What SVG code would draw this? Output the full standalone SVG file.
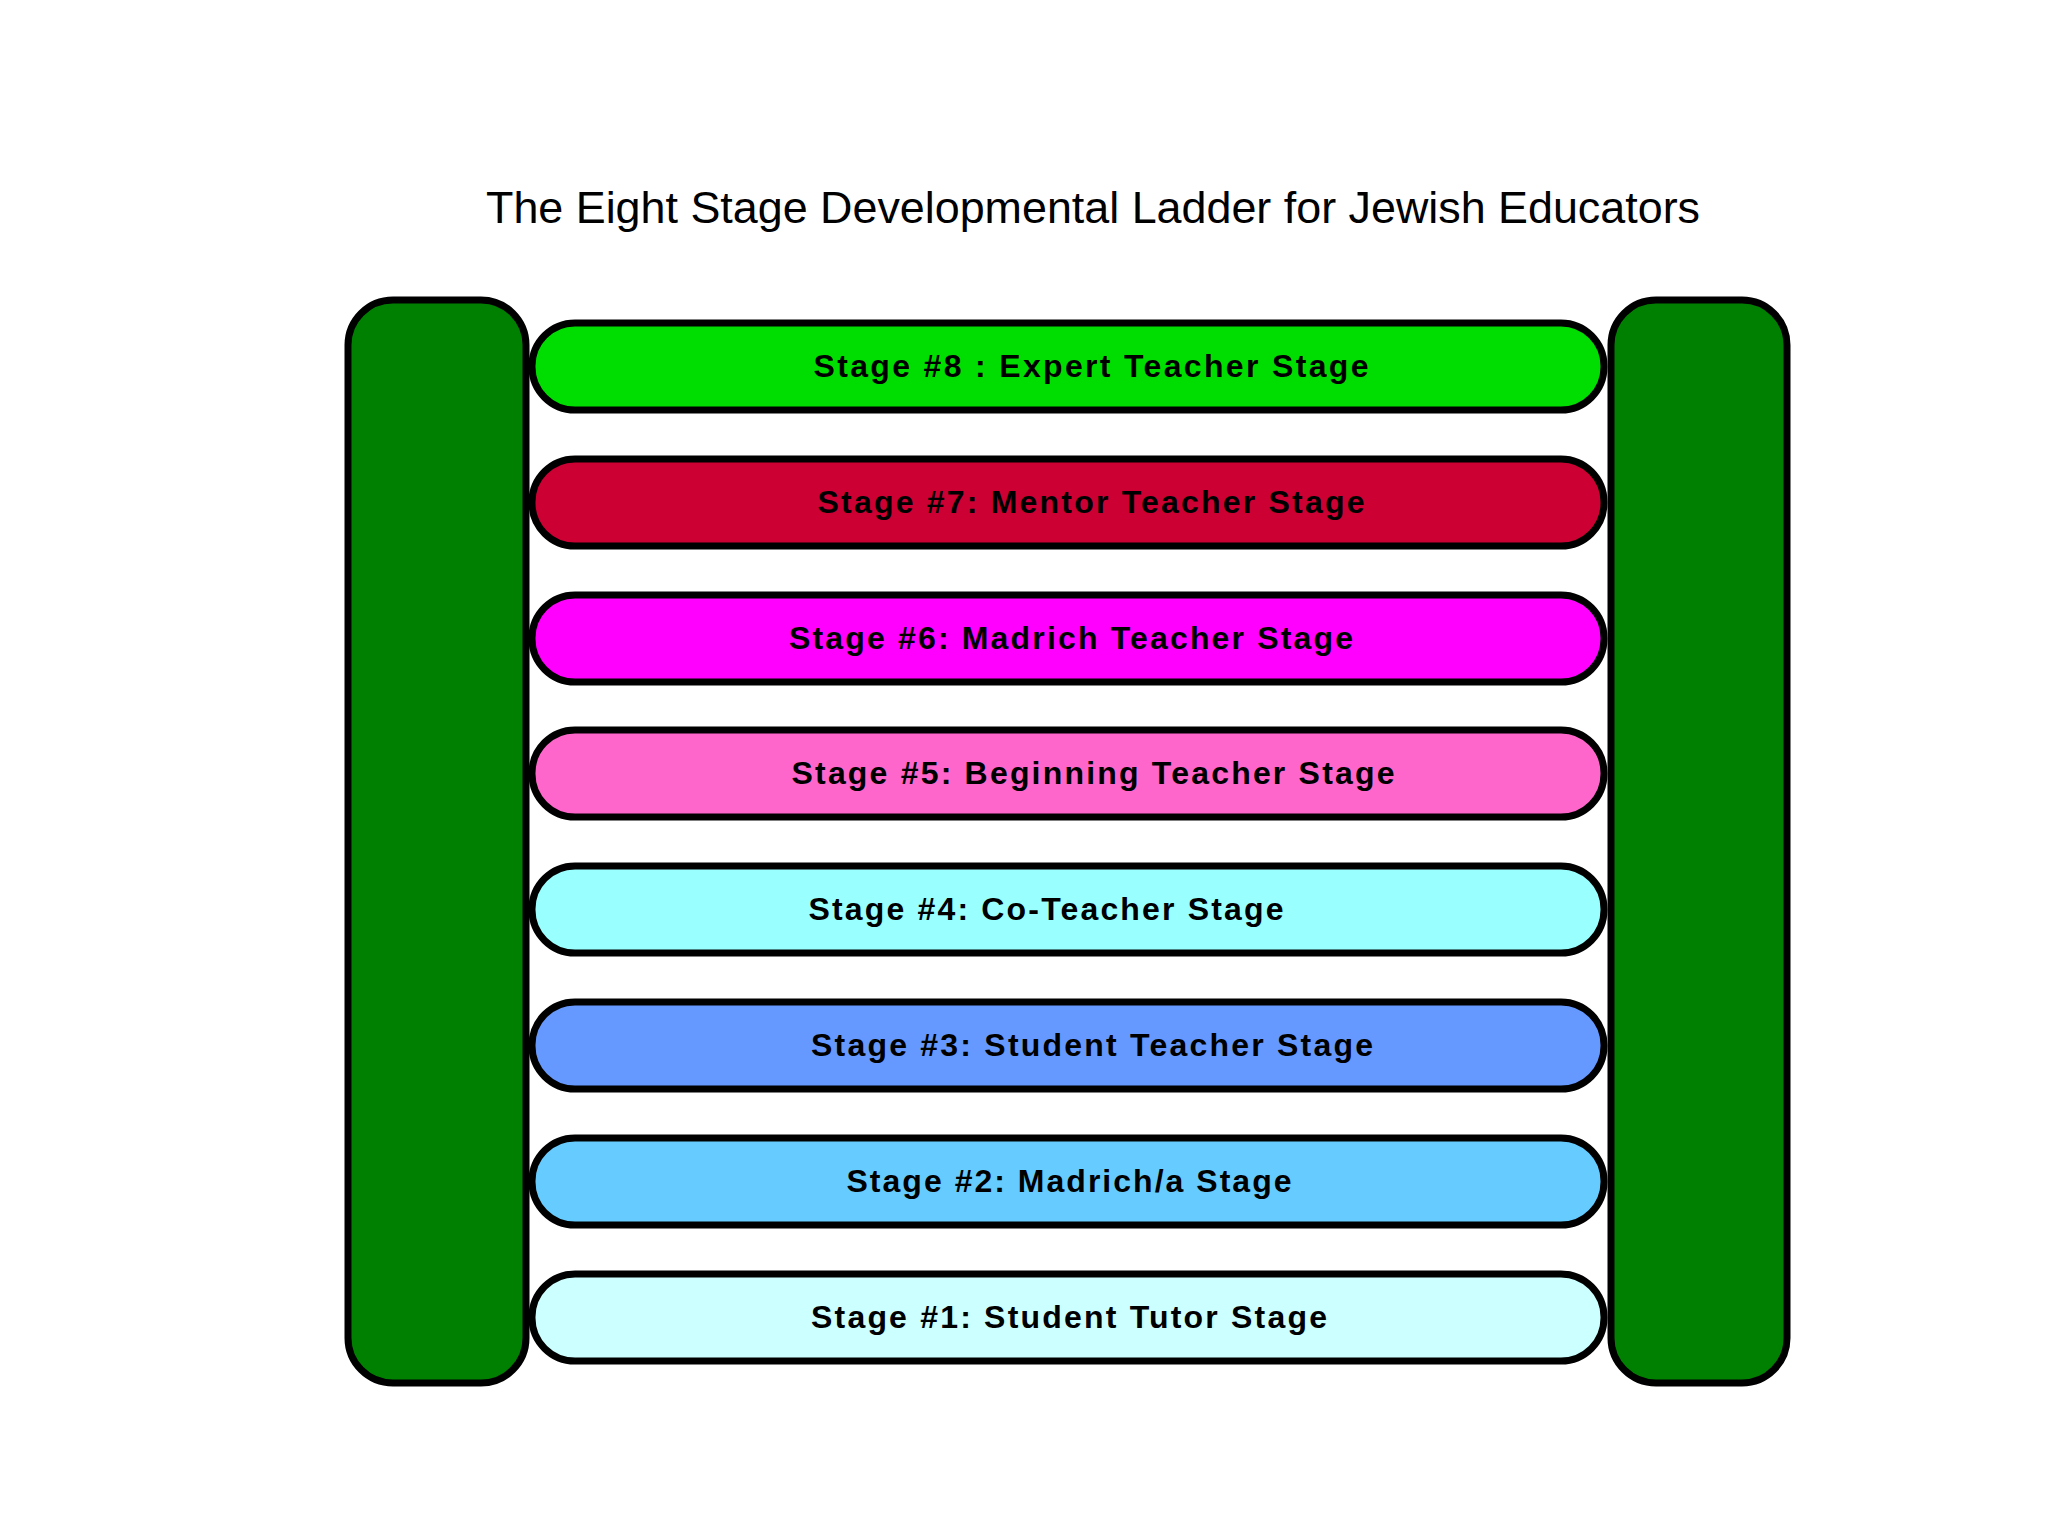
<svg xmlns="http://www.w3.org/2000/svg" width="2048" height="1535" viewBox="0 0 2048 1535">
<style>
.post{fill:#008000;stroke:#000;stroke-width:7}
.bar{stroke:#000;stroke-width:7}
.lbl{font-family:"Liberation Sans",Arial,sans-serif;font-weight:bold;font-size:32px;fill:#000;text-anchor:middle;dominant-baseline:central}
.title{font-family:"Liberation Sans",Arial,sans-serif;font-size:44px;fill:#000;text-anchor:middle}
</style>
<rect width="2048" height="1535" fill="#fff"/>
<text class="title" x="1093" y="223" textLength="1214" lengthAdjust="spacingAndGlyphs">The Eight Stage Developmental Ladder for Jewish Educators</text>
<g id="left-post"><rect class="post" x="348" y="300" width="178" height="1083" rx="45"/></g>
<g id="right-post"><rect class="post" x="1611" y="300" width="176" height="1083" rx="45"/></g>
<g id="connectors"></g>
<g id="stage8"><rect class="bar" fill="#00DD00" x="532" y="323" width="1072" height="87" rx="43"/><text class="lbl" x="1091" y="366" textLength="555">Stage #8 : Expert Teacher  Stage</text></g>
<g id="stage7"><rect class="bar" fill="#CC0033" x="532" y="459" width="1072" height="87" rx="43"/><text class="lbl" x="1091" y="502" textLength="547">Stage #7: Mentor Teacher Stage</text></g>
<g id="stage6"><rect class="bar" fill="#FF00FF" x="532" y="595" width="1072" height="87" rx="43"/><text class="lbl" x="1071" y="638" textLength="564">Stage #6: Madrich Teacher Stage</text></g>
<g id="stage5"><rect class="bar" fill="#FF66CC" x="532" y="730" width="1072" height="87" rx="43"/><text class="lbl" x="1093" y="773" textLength="603">Stage #5: Beginning Teacher Stage</text></g>
<g id="stage4"><rect class="bar" fill="#99FFFF" x="532" y="866" width="1072" height="87" rx="43"/><text class="lbl" x="1046" y="909" textLength="475">Stage #4: Co-Teacher Stage</text></g>
<g id="stage3"><rect class="bar" fill="#6699FF" x="532" y="1002" width="1072" height="87" rx="43"/><text class="lbl" x="1092" y="1045" textLength="562">Stage #3: Student Teacher Stage</text></g>
<g id="stage2"><rect class="bar" fill="#66CCFF" x="532" y="1138" width="1072" height="87" rx="43"/><text class="lbl" x="1069" y="1181" textLength="445">Stage #2: Madrich/a Stage</text></g>
<g id="stage1"><rect class="bar" fill="#CCFFFF" x="532" y="1274" width="1072" height="87" rx="43"/><text class="lbl" x="1069" y="1317" textLength="516">Stage #1: Student Tutor Stage</text></g>
</svg>
